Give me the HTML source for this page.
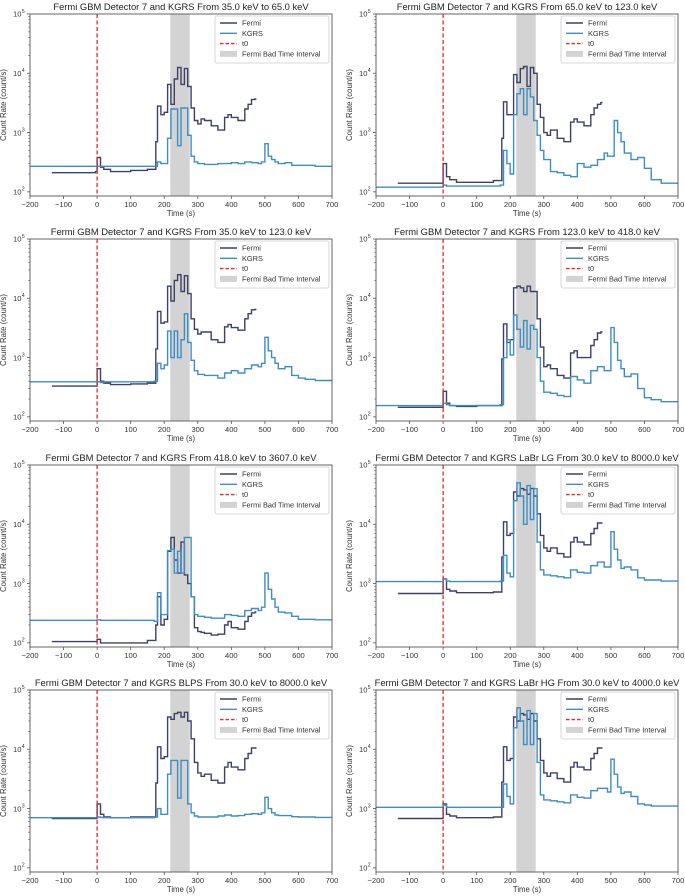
<!DOCTYPE html>
<html><head><meta charset="utf-8"><style>
html,body{margin:0;padding:0;background:#fff}
svg{display:block;font-family:"Liberation Sans",sans-serif}
</style></head>
<body>
<svg id="fig" width="685" height="896" viewBox="0 0 685 896"></svg>
<script>
// shared bin edges
const fermiEdges=[-135,-5,0,10,20,40,100,150,175,180,190,200,210,220,230,240,250,260,270,280,290,300,310,320,340,360,380,390,400,420,440,450,460,470,475];
const kgrsEdges=[-200,0,10,20,170,180,190,200,210,220,230,240,250,260,270,280,290,300,320,340,360,380,400,420,440,460,480,490,500,510,520,530,540,560,580,600,620,650,700];
const xTicks=[-200,-100,0,100,200,300,400,500,600,700];
const yTickExps=[2,3,4,5];
const badInterval=[218,276];
const titles=["Fermi GBM Detector 7 and KGRS From 35.0 keV to 65.0 keV","Fermi GBM Detector 7 and KGRS From 65.0 keV to 123.0 keV","Fermi GBM Detector 7 and KGRS From 35.0 keV to 123.0 keV","Fermi GBM Detector 7 and KGRS From 123.0 keV to 418.0 keV","Fermi GBM Detector 7 and KGRS From 418.0 keV to 3607.0 keV","Fermi GBM Detector 7 and KGRS LaBr LG From 30.0 keV to 8000.0 keV","Fermi GBM Detector 7 and KGRS BLPS From 30.0 keV to 8000.0 keV","Fermi GBM Detector 7 and KGRS LaBr HG From 30.0 keV to 4000.0 keV"];
const fermi1=[210,220,380,260,240,220,230,240,700,2800,2000,2200,6500,3000,8000,12500,6500,12000,6000,2600,1600,1400,1700,1600,1300,1100,1800,2000,1800,1600,2500,3000,3600,3700];
const kgrs1=[270,270,270,270,270,320,300,300,800,2500,2500,600,2600,2600,900,400,320,300,290,290,300,300,310,300,320,310,300,320,650,400,350,320,300,310,280,280,280,270];
const fermi2=[140,140,300,180,160,145,145,155,800,3300,2000,2000,9500,7000,12000,13000,6000,12500,10000,3000,1800,1000,900,1100,800,700,1500,1700,1500,1300,2000,2600,3000,3200];
const kgrs2=[120,130,125,125,130,500,300,200,2000,4500,5500,2000,5500,4000,1600,900,500,350,220,210,190,180,300,260,280,350,450,400,400,1600,1000,700,450,350,380,250,160,140];
const fermi3=[330,330,650,400,370,350,360,370,1400,6000,3800,4000,16000,9000,20000,25000,13000,24000,12000,4500,3000,2500,2700,2700,2000,1800,3300,3600,3200,2900,4500,5500,6400,6500];
const kgrs3=[390,390,380,390,400,800,650,750,2800,1000,2800,1000,2000,5500,1800,900,600,520,500,500,450,550,600,550,650,750,700,800,2200,1300,1000,800,650,700,500,450,430,410];
const fermi4=[145,145,270,170,155,150,155,155,950,3700,1800,2000,15000,16000,15000,13000,16000,13000,13000,4500,1500,700,750,650,500,450,1200,1300,1000,1000,1600,2000,2600,2700];
const kgrs4=[155,170,160,155,160,1000,2000,1100,5200,3000,1500,4200,1400,3500,3000,1000,400,260,250,230,220,480,420,370,600,700,600,600,3200,1800,900,650,480,530,300,210,195,180];
const fermi5=[105,105,115,100,100,100,100,110,200,600,200,250,3500,6000,2500,1500,5000,1400,1000,600,180,155,150,145,135,140,200,230,180,170,230,280,320,330];
const kgrs5=[240,245,240,240,230,700,300,300,3600,3800,1500,3500,1500,6000,6000,600,300,280,270,260,260,300,290,280,350,380,350,400,1500,800,550,400,330,320,280,250,250,245];
const fermi6=[680,680,1200,800,750,700,700,720,2800,11000,6500,7000,35000,30000,40000,38000,32000,40000,30000,15000,6500,4000,3500,4000,3200,2800,5000,6000,5000,4500,7000,8500,10500,10500];
const kgrs6=[1080,1200,1100,1080,1100,3000,1500,1300,25000,50000,30000,10000,45000,12000,40000,5000,1700,1400,1350,1300,1250,1700,1550,1500,2000,2300,1900,1900,7500,3800,2500,1800,1900,1700,1250,1150,1150,1100];
const fermi7=[680,680,1200,800,720,700,720,720,2700,11000,7000,7500,35000,32000,40000,42000,35000,42000,30000,15000,6000,4000,3500,3800,3000,2700,5000,6000,5000,4500,7000,8500,10500,10500];
const kgrs7=[700,720,710,700,720,1000,800,800,3800,6500,6500,1500,6500,6500,1200,850,750,720,720,720,750,780,750,760,800,820,800,850,1550,1000,850,780,760,760,730,720,720,710];
const fermi8=[680,680,1200,800,750,700,700,720,2800,11000,6500,7000,35000,30000,40000,38000,32000,40000,30000,15000,6500,4000,3500,4000,3200,2800,5000,6000,5000,4500,7000,8500,10500,10500];
const kgrs8=[1050,1150,1050,1050,1050,2600,1600,1200,23000,50000,30000,12000,45000,12000,40000,6000,1700,1400,1350,1300,1250,1700,1550,1500,2000,2200,2200,1900,6800,3800,2300,1800,1900,1600,1200,1150,1100,1100];
const fermiSets=[fermi1,fermi2,fermi3,fermi4,fermi5,fermi6,fermi7,fermi8];
const kgrsSets=[kgrs1,kgrs2,kgrs3,kgrs4,kgrs5,kgrs6,kgrs7,kgrs8];

const NS="http://www.w3.org/2000/svg";
const svg=document.getElementById('fig');
function mk(tag,attrs,parent,text){const e=document.createElementNS(NS,tag);for(const k in attrs)e.setAttribute(k,attrs[k]);if(text!==undefined)e.textContent=text;(parent||svg).appendChild(e);return e;}
const colLeft=[30,376],rowTop=[14,239,465,690],W=302,H=182;
const FERMI="#3d4166",KGRS="#3c8ec4";
for(let i=0;i<8;i++){
  const ax=colLeft[i%2],ay=rowTop[Math.floor(i/2)];
  const g=mk('g',{});
  
  
  const xs=t=>ax+(t+200)/900*W;
  const ymin=1.93,ymax=5;
  const ys=v=>ay+H-(Math.log10(v)-ymin)/(ymax-ymin)*H;
  const clip=mk('clipPath',{id:'c'+i},g);mk('rect',{x:ax,y:ay,width:W,height:H},clip);
  const band=mk('rect',{x:xs(badInterval[0]),y:ay,width:xs(badInterval[1])-xs(badInterval[0]),height:H,fill:'#d3d3d3'},g);
  
  
  function step(edges,vals,color,name){
    let d='';for(let j=0;j<vals.length;j++){const y=ys(vals[j]);d+=(j===0?'M':'L')+xs(edges[j]).toFixed(1)+','+y.toFixed(1)+'L'+xs(edges[j+1]).toFixed(1)+','+y.toFixed(1);}
    const p=mk('path',{d:d,fill:'none',stroke:color,'stroke-width':1.4,'clip-path':'url(#c'+i+')'},g);
    
    
  }
  step(fermiEdges,fermiSets[i],FERMI,'fermi-line');
  step(kgrsEdges,kgrsSets[i],KGRS,'kgrs-line');
  const t0=mk('line',{x1:xs(0),x2:xs(0),y1:ay,y2:ay+H,stroke:'#e8262a','stroke-width':1.3,'stroke-dasharray':'4,2.5'},g);
  
  
  const fr=mk('rect',{x:ax,y:ay,width:W,height:H,fill:'none',stroke:'#555','stroke-width':0.9},g);
  
  
  xTicks.forEach(t=>{const x=xs(t);mk('line',{x1:x,x2:x,y1:ay+H,y2:ay+H+3,stroke:'#555','stroke-width':0.8},g);
    const tl=mk('text',{x:x,y:ay+H+11,'font-size':7.6,'text-anchor':'middle',fill:'#333'},g,t<0?'\u2212'+(-t):String(t));
    
    });
  yTickExps.forEach(e=>{const y=ys(Math.pow(10,e));mk('line',{x1:ax-3,x2:ax,y1:y,y2:y,stroke:'#555','stroke-width':0.8},g);
    const tl=mk('text',{x:ax-8.5,y:y+2.7,'font-size':7.6,'text-anchor':'end',fill:'#333'},g,'10');
    
    
    mk('text',{x:ax-8.3,y:y-1.2,'font-size':5.3,fill:'#333'},g,String(e));
    if(e<5)for(let m=2;m<10;m++){const ym=ys(m*Math.pow(10,e));mk('line',{x1:ax-1.8,x2:ax,y1:ym,y2:ym,stroke:'#555','stroke-width':0.6},g);}});
  const t=mk('text',{x:ax+W/2,y:ay-4,'font-size':9.4,'text-anchor':'middle',fill:'#222'},g,titles[i]);
  
  
  const xl=mk('text',{x:ax+W/2,y:ay+H+20,'font-size':7.8,'text-anchor':'middle',fill:'#333'},g,'Time (s)');
  
  
  const yl=mk('text',{x:0,y:0,'font-size':7.8,'text-anchor':'middle',fill:'#333',transform:'translate('+(ax-24)+','+(ay+H/2)+') rotate(-90)'},g,'Count Rate (count/s)');
  
  
  // legend
  const lx=ax+W-117,ly=ay+2;
  const lg=mk('g',{},g);
  
  
  mk('rect',{x:lx,y:ly,width:114,height:47,fill:'#fff','fill-opacity':0.85,stroke:'#ccc','stroke-width':0.8,rx:2},lg);
  const entries=[['Fermi',FERMI,'solid'],['KGRS',KGRS,'solid'],['t0','#e8262a','dash'],['Fermi Bad Time Interval','#d3d3d3','patch']];
  entries.forEach((en,k)=>{const y=ly+7+k*10.3;
    if(en[2]==='patch')mk('rect',{x:lx+5,y:y-3,width:17,height:6,fill:en[1]},lg);
    else mk('line',{x1:lx+5,x2:lx+22,y1:y,y2:y,stroke:en[1],'stroke-width':1.4,'stroke-dasharray':en[2]==='dash'?'3.5,2':'none'},lg);
    const tx=mk('text',{x:lx+27,y:y+2.6,'font-size':7.4,fill:'#333'},lg,en[0]);
    
    });
}
</script>
</body></html>
